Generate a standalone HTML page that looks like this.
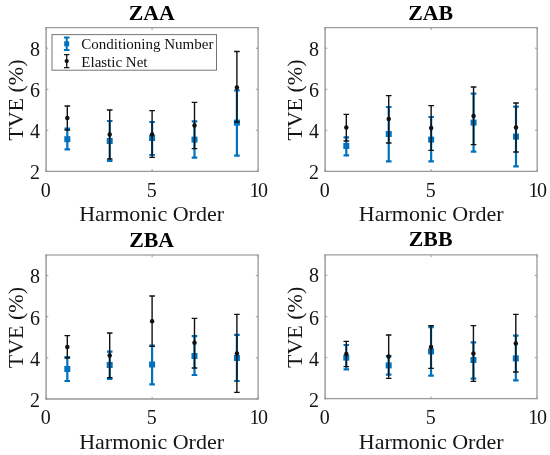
<!DOCTYPE html>
<html lang="en"><head><meta charset="utf-8"><title>TVE vs Harmonic Order</title>
<style>
html,body{margin:0;padding:0;background:#fff;}
body{width:550px;height:455px;overflow:hidden;}
svg{display:block;filter:blur(0.35px);font-family:"Liberation Serif","Times New Roman",serif;}
</style></head><body>
<svg width="550" height="455" viewBox="0 0 550 455">
<rect width="550" height="455" fill="#fff"/>
<g id="ZAA">
<rect x="46.1" y="27.7" width="212" height="143.6" fill="#fff" stroke="none"/>
<path d="M46.1 171.9V27.2" stroke="#a4a4a4" stroke-width="1.6" fill="none"/>
<path d="M45.6 27.7H258.6" stroke="#858585" stroke-width="1" fill="none"/>
<path d="M258.1 27.2V171.9M258.7 171.3H45.5" stroke="#999" stroke-width="1.3" fill="none"/>
<path d="M46.1 171.3v-2.2M46.1 27.7v2.2M152.1 171.3v-2.2M152.1 27.7v2.2M258.1 171.3v-2.2M258.1 27.7v2.2M46.1 171.3h2.2M258.1 171.3h-2.2M46.1 130.27h2.2M258.1 130.27h-2.2M46.1 89.24h2.2M258.1 89.24h-2.2M46.1 48.21h2.2M258.1 48.21h-2.2" stroke="#999" stroke-width="1" fill="none"/>
<g stroke="#0072BD" stroke-width="2.2" fill="#0072BD"><path d="M67.3 128.6V149.4M64.5 128.6H70.1M64.5 149.4H70.1" fill="none"/><rect x="64.3" y="136.2" width="6" height="6" stroke="none"/></g>
<g stroke="#0072BD" stroke-width="2.2" fill="#0072BD"><path d="M109.7 121V161M106.9 121H112.5M106.9 161H112.5" fill="none"/><rect x="106.7" y="138" width="6" height="6" stroke="none"/></g>
<g stroke="#0072BD" stroke-width="2.2" fill="#0072BD"><path d="M152.1 122V155M149.3 122H154.9M149.3 155H154.9" fill="none"/><rect x="149.1" y="135" width="6" height="6" stroke="none"/></g>
<g stroke="#0072BD" stroke-width="2.2" fill="#0072BD"><path d="M194.5 121.4V157.6M191.7 121.4H197.3M191.7 157.6H197.3" fill="none"/><rect x="191.5" y="136.6" width="6" height="6" stroke="none"/></g>
<g stroke="#0072BD" stroke-width="2.2" fill="#0072BD"><path d="M236.9 90.4V155.6M234.1 90.4H239.7M234.1 155.6H239.7" fill="none"/><rect x="233.9" y="119.6" width="6" height="6" stroke="none"/></g>
<g stroke="#111" stroke-width="1.4" fill="#111"><path d="M67.3 106V130M64.5 106H70.1M64.5 130H70.1" fill="none"/><circle cx="67.3" cy="118" r="2.25" stroke="none"/></g>
<g stroke="#111" stroke-width="1.4" fill="#111"><path d="M109.7 110V159M106.9 110H112.5M106.9 159H112.5" fill="none"/><circle cx="109.7" cy="134.4" r="2.25" stroke="none"/></g>
<g stroke="#111" stroke-width="1.4" fill="#111"><path d="M152.1 110.6V157.4M149.3 110.6H154.9M149.3 157.4H154.9" fill="none"/><circle cx="152.1" cy="134.4" r="2.25" stroke="none"/></g>
<g stroke="#111" stroke-width="1.4" fill="#111"><path d="M194.5 102.4V148.6M191.7 102.4H197.3M191.7 148.6H197.3" fill="none"/><circle cx="194.5" cy="125.4" r="2.25" stroke="none"/></g>
<g stroke="#111" stroke-width="1.4" fill="#111"><path d="M236.9 51.5V122M234.1 51.5H239.7M234.1 122H239.7" fill="none"/><circle cx="236.9" cy="87.6" r="2.25" stroke="none"/></g>
<g font-size="20" fill="#151515">
<text x="45.8" y="196.7" text-anchor="middle">0</text>
<text x="151.8" y="196.7" text-anchor="middle">5</text>
<text x="258.7" y="196.7" text-anchor="middle">1<tspan dx="-1.4">0</tspan></text>
<text x="39.9" y="179.3" text-anchor="end">2</text>
<text x="39.9" y="138.27" text-anchor="end">4</text>
<text x="39.9" y="97.44" text-anchor="end">6</text>
<text x="39.9" y="55.71" text-anchor="end">8</text>
</g>
<text x="151.6" y="221.2" font-size="22" text-anchor="middle" fill="#151515">Harmonic Order</text>
<text transform="translate(22.9 100.1) rotate(-90)" font-size="22" text-anchor="middle" fill="#151515">TVE (%)</text>
<text x="151.7" y="19.6" font-size="21.8" font-weight="bold" text-anchor="middle" fill="#000">ZAA</text>
</g>
<g id="ZAB">
<rect x="325.1" y="27.7" width="212.1" height="143.6" fill="#fff" stroke="none"/>
<path d="M325.1 171.9V27.2" stroke="#a4a4a4" stroke-width="1.6" fill="none"/>
<path d="M324.6 27.7H537.7" stroke="#858585" stroke-width="1" fill="none"/>
<path d="M537.2 27.2V171.9M537.8 171.3H324.5" stroke="#999" stroke-width="1.3" fill="none"/>
<path d="M325.1 171.3v-2.2M325.1 27.7v2.2M431.15 171.3v-2.2M431.15 27.7v2.2M537.2 171.3v-2.2M537.2 27.7v2.2M325.1 171.3h2.2M537.2 171.3h-2.2M325.1 130.27h2.2M537.2 130.27h-2.2M325.1 89.24h2.2M537.2 89.24h-2.2M325.1 48.21h2.2M537.2 48.21h-2.2" stroke="#999" stroke-width="1" fill="none"/>
<g stroke="#0072BD" stroke-width="2.2" fill="#0072BD"><path d="M346.31 137.4V155.4M343.51 137.4H349.11M343.51 155.4H349.11" fill="none"/><rect x="343.31" y="143" width="6" height="6" stroke="none"/></g>
<g stroke="#0072BD" stroke-width="2.2" fill="#0072BD"><path d="M388.73 107V161.4M385.93 107H391.53M385.93 161.4H391.53" fill="none"/><rect x="385.73" y="131" width="6" height="6" stroke="none"/></g>
<g stroke="#0072BD" stroke-width="2.2" fill="#0072BD"><path d="M431.15 117V161.4M428.35 117H433.95M428.35 161.4H433.95" fill="none"/><rect x="428.15" y="136.6" width="6" height="6" stroke="none"/></g>
<g stroke="#0072BD" stroke-width="2.2" fill="#0072BD"><path d="M473.57 93.6V151.6M470.77 93.6H476.37M470.77 151.6H476.37" fill="none"/><rect x="470.57" y="119.6" width="6" height="6" stroke="none"/></g>
<g stroke="#0072BD" stroke-width="2.2" fill="#0072BD"><path d="M515.99 106.6V166.4M513.19 106.6H518.79M513.19 166.4H518.79" fill="none"/><rect x="512.99" y="133.6" width="6" height="6" stroke="none"/></g>
<g stroke="#111" stroke-width="1.4" fill="#111"><path d="M346.31 114.4V141M343.51 114.4H349.11M343.51 141H349.11" fill="none"/><circle cx="346.31" cy="127.6" r="2.25" stroke="none"/></g>
<g stroke="#111" stroke-width="1.4" fill="#111"><path d="M388.73 95.6V143M385.93 95.6H391.53M385.93 143H391.53" fill="none"/><circle cx="388.73" cy="119" r="2.25" stroke="none"/></g>
<g stroke="#111" stroke-width="1.4" fill="#111"><path d="M431.15 105.6V150.4M428.35 105.6H433.95M428.35 150.4H433.95" fill="none"/><circle cx="431.15" cy="128" r="2.25" stroke="none"/></g>
<g stroke="#111" stroke-width="1.4" fill="#111"><path d="M473.57 87V144.6M470.77 87H476.37M470.77 144.6H476.37" fill="none"/><circle cx="473.57" cy="116" r="2.25" stroke="none"/></g>
<g stroke="#111" stroke-width="1.4" fill="#111"><path d="M515.99 103V152M513.19 103H518.79M513.19 152H518.79" fill="none"/><circle cx="515.99" cy="127.6" r="2.25" stroke="none"/></g>
<g font-size="20" fill="#151515">
<text x="324.8" y="196.7" text-anchor="middle">0</text>
<text x="430.85" y="196.7" text-anchor="middle">5</text>
<text x="537.8" y="196.7" text-anchor="middle">1<tspan dx="-1.4">0</tspan></text>
<text x="318.9" y="179.3" text-anchor="end">2</text>
<text x="318.9" y="138.27" text-anchor="end">4</text>
<text x="318.9" y="97.44" text-anchor="end">6</text>
<text x="318.9" y="55.71" text-anchor="end">8</text>
</g>
<text x="431.25" y="221.2" font-size="22" text-anchor="middle" fill="#151515">Harmonic Order</text>
<text transform="translate(301.9 100.1) rotate(-90)" font-size="22" text-anchor="middle" fill="#151515">TVE (%)</text>
<text x="430.75" y="19.6" font-size="21.8" font-weight="bold" text-anchor="middle" fill="#000">ZAB</text>
</g>
<g id="ZBA">
<rect x="46.1" y="255" width="212" height="144" fill="#fff" stroke="none"/>
<path d="M46.1 399.6V254.5" stroke="#a4a4a4" stroke-width="1.6" fill="none"/>
<path d="M45.6 255H258.6" stroke="#858585" stroke-width="1" fill="none"/>
<path d="M258.1 254.5V399.6M258.7 399H45.5" stroke="#999" stroke-width="1.3" fill="none"/>
<path d="M46.1 399v-2.2M46.1 255v2.2M152.1 399v-2.2M152.1 255v2.2M258.1 399v-2.2M258.1 255v2.2M46.1 399h2.2M258.1 399h-2.2M46.1 357.86h2.2M258.1 357.86h-2.2M46.1 316.71h2.2M258.1 316.71h-2.2M46.1 275.57h2.2M258.1 275.57h-2.2" stroke="#999" stroke-width="1" fill="none"/>
<g stroke="#0072BD" stroke-width="2.2" fill="#0072BD"><path d="M67.3 357V381M64.5 357H70.1M64.5 381H70.1" fill="none"/><rect x="64.3" y="366" width="6" height="6" stroke="none"/></g>
<g stroke="#0072BD" stroke-width="2.2" fill="#0072BD"><path d="M109.7 351.6V379M106.9 351.6H112.5M106.9 379H112.5" fill="none"/><rect x="106.7" y="362" width="6" height="6" stroke="none"/></g>
<g stroke="#0072BD" stroke-width="2.2" fill="#0072BD"><path d="M152.1 345.6V384.4M149.3 345.6H154.9M149.3 384.4H154.9" fill="none"/><rect x="149.1" y="361.5" width="6" height="6" stroke="none"/></g>
<g stroke="#0072BD" stroke-width="2.2" fill="#0072BD"><path d="M194.5 336.2V375M191.7 336.2H197.3M191.7 375H197.3" fill="none"/><rect x="191.5" y="353" width="6" height="6" stroke="none"/></g>
<g stroke="#0072BD" stroke-width="2.2" fill="#0072BD"><path d="M236.9 334.8V381M234.1 334.8H239.7M234.1 381H239.7" fill="none"/><rect x="233.9" y="355" width="6" height="6" stroke="none"/></g>
<g stroke="#111" stroke-width="1.4" fill="#111"><path d="M67.3 335.6V358M64.5 335.6H70.1M64.5 358H70.1" fill="none"/><circle cx="67.3" cy="347" r="2.25" stroke="none"/></g>
<g stroke="#111" stroke-width="1.4" fill="#111"><path d="M109.7 333V377.6M106.9 333H112.5M106.9 377.6H112.5" fill="none"/><circle cx="109.7" cy="355.4" r="2.25" stroke="none"/></g>
<g stroke="#111" stroke-width="1.4" fill="#111"><path d="M152.1 296V346.4M149.3 296H154.9M149.3 346.4H154.9" fill="none"/><circle cx="152.1" cy="321.2" r="2.25" stroke="none"/></g>
<g stroke="#111" stroke-width="1.4" fill="#111"><path d="M194.5 318.4V368M191.7 318.4H197.3M191.7 368H197.3" fill="none"/><circle cx="194.5" cy="342.8" r="2.25" stroke="none"/></g>
<g stroke="#111" stroke-width="1.4" fill="#111"><path d="M236.9 314.4V392.4M234.1 314.4H239.7M234.1 392.4H239.7" fill="none"/><circle cx="236.9" cy="353.4" r="2.25" stroke="none"/></g>
<g font-size="20" fill="#151515">
<text x="45.8" y="424.4" text-anchor="middle">0</text>
<text x="151.8" y="424.4" text-anchor="middle">5</text>
<text x="258.7" y="424.4" text-anchor="middle">1<tspan dx="-1.4">0</tspan></text>
<text x="39.9" y="407" text-anchor="end">2</text>
<text x="39.9" y="365.86" text-anchor="end">4</text>
<text x="39.9" y="324.91" text-anchor="end">6</text>
<text x="39.9" y="282.57" text-anchor="end">8</text>
</g>
<text x="151.6" y="448.9" font-size="22" text-anchor="middle" fill="#151515">Harmonic Order</text>
<text transform="translate(22.9 327.6) rotate(-90)" font-size="22" text-anchor="middle" fill="#151515">TVE (%)</text>
<text x="151.7" y="246.5" font-size="21.8" font-weight="bold" text-anchor="middle" fill="#000">ZBA</text>
</g>
<g id="ZBB">
<rect x="325.1" y="254.9" width="211.9" height="143.8" fill="#fff" stroke="none"/>
<path d="M325.1 399.3V254.4" stroke="#a4a4a4" stroke-width="1.6" fill="none"/>
<path d="M324.6 254.9H537.5" stroke="#858585" stroke-width="1" fill="none"/>
<path d="M537 254.4V399.3M537.6 398.7H324.5" stroke="#999" stroke-width="1.3" fill="none"/>
<path d="M325.1 398.7v-2.2M325.1 254.9v2.2M431.05 398.7v-2.2M431.05 254.9v2.2M537 398.7v-2.2M537 254.9v2.2M325.1 398.7h2.2M537 398.7h-2.2M325.1 357.61h2.2M537 357.61h-2.2M325.1 316.53h2.2M537 316.53h-2.2M325.1 275.44h2.2M537 275.44h-2.2" stroke="#999" stroke-width="1" fill="none"/>
<g stroke="#0072BD" stroke-width="2.2" fill="#0072BD"><path d="M346.29 345V369.4M343.49 345H349.09M343.49 369.4H349.09" fill="none"/><rect x="343.29" y="354.6" width="6" height="6" stroke="none"/></g>
<g stroke="#0072BD" stroke-width="2.2" fill="#0072BD"><path d="M388.67 356.2V374.6M385.87 356.2H391.47M385.87 374.6H391.47" fill="none"/><rect x="385.67" y="362.4" width="6" height="6" stroke="none"/></g>
<g stroke="#0072BD" stroke-width="2.2" fill="#0072BD"><path d="M431.05 327.2V375.6M428.25 327.2H433.85M428.25 375.6H433.85" fill="none"/><rect x="428.05" y="348.4" width="6" height="6" stroke="none"/></g>
<g stroke="#0072BD" stroke-width="2.2" fill="#0072BD"><path d="M473.43 342.4V378.6M470.63 342.4H476.23M470.63 378.6H476.23" fill="none"/><rect x="470.43" y="357" width="6" height="6" stroke="none"/></g>
<g stroke="#0072BD" stroke-width="2.2" fill="#0072BD"><path d="M515.81 335.6V380.4M513.01 335.6H518.61M513.01 380.4H518.61" fill="none"/><rect x="512.81" y="355.4" width="6" height="6" stroke="none"/></g>
<g stroke="#111" stroke-width="1.4" fill="#111"><path d="M346.29 341.4V366.6M343.49 341.4H349.09M343.49 366.6H349.09" fill="none"/><circle cx="346.29" cy="354" r="2.25" stroke="none"/></g>
<g stroke="#111" stroke-width="1.4" fill="#111"><path d="M388.67 335V378.4M385.87 335H391.47M385.87 378.4H391.47" fill="none"/><circle cx="388.67" cy="356.4" r="2.25" stroke="none"/></g>
<g stroke="#111" stroke-width="1.4" fill="#111"><path d="M431.05 325.6V368.4M428.25 325.6H433.85M428.25 368.4H433.85" fill="none"/><circle cx="431.05" cy="347" r="2.25" stroke="none"/></g>
<g stroke="#111" stroke-width="1.4" fill="#111"><path d="M473.43 325.6V381.4M470.63 325.6H476.23M470.63 381.4H476.23" fill="none"/><circle cx="473.43" cy="353.4" r="2.25" stroke="none"/></g>
<g stroke="#111" stroke-width="1.4" fill="#111"><path d="M515.81 314.4V372M513.01 314.4H518.61M513.01 372H518.61" fill="none"/><circle cx="515.81" cy="343.6" r="2.25" stroke="none"/></g>
<g font-size="20" fill="#151515">
<text x="324.8" y="424.1" text-anchor="middle">0</text>
<text x="430.75" y="424.1" text-anchor="middle">5</text>
<text x="537.6" y="424.1" text-anchor="middle">1<tspan dx="-1.4">0</tspan></text>
<text x="318.9" y="406.7" text-anchor="end">2</text>
<text x="318.9" y="365.61" text-anchor="end">4</text>
<text x="318.9" y="324.73" text-anchor="end">6</text>
<text x="318.9" y="282.44" text-anchor="end">8</text>
</g>
<text x="431.15" y="448.6" font-size="22" text-anchor="middle" fill="#151515">Harmonic Order</text>
<text transform="translate(301.9 327.4) rotate(-90)" font-size="22" text-anchor="middle" fill="#151515">TVE (%)</text>
<text x="430.65" y="246.4" font-size="21.8" font-weight="bold" text-anchor="middle" fill="#000">ZBB</text>
</g>
<g id="legend">
<rect x="52" y="34.6" width="164.5" height="35.6" fill="#fff" stroke="#757575" stroke-width="1"/>
<g stroke="#0072BD" stroke-width="2" fill="#0072BD"><path d="M66.7 37.5V50M63.9 37.5H69.5M63.9 50H69.5" fill="none"/><rect x="64.2" y="41.3" width="5" height="5" stroke="none"/></g>
<g stroke="#111" stroke-width="1.3" fill="#111"><path d="M66.7 54.6V67.6M64 54.6H69.4M64 67.6H69.4" fill="none"/><circle cx="66.7" cy="61.1" r="2.15" stroke="none"/></g>
<text x="81.3" y="48.7" font-size="15" fill="#111">Conditioning Number</text>
<text x="81.3" y="66.7" font-size="15" fill="#111">Elastic Net</text>
</g>
</svg>
</body></html>
